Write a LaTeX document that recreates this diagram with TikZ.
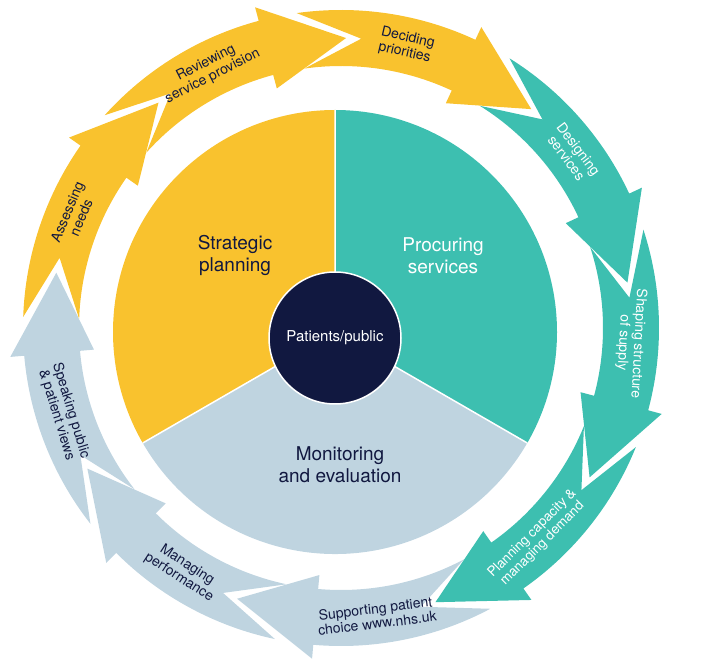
\documentclass[tikz,border=0pt]{standalone}
\usepackage{fontspec}
\setmainfont{TeX Gyre Heros}
\usetikzlibrary{calc}
\definecolor{yel}{HTML}{F9C22E}
\definecolor{teal}{HTML}{3DBFB0}
\definecolor{lbl}{HTML}{BFD4E0}
\definecolor{navy}{HTML}{111840}
\tikzset{
  lab/.style={align=center,font=\fontsize{14}{15}\selectfont,text=#1},
  pielab/.style={align=center,font=\fontsize{19}{22}\selectfont,text=#1}
}
\newcommand{\ringarrow}[3]{% start angle, color, name
  \pgfmathsetmacro{\aa}{#1}\pgfmathsetmacro{\bb}{#1-33}
  \pgfmathsetmacro{\nn}{#1-12}\pgfmathsetmacro{\tt}{#1-49}
  \fill[#2] ($(C)+(\aa:318)$) arc[start angle=\aa,end angle=\bb,radius=318]
    -- ($(C)+(\bb:332)$) -- ($(C)+(\tt:290)$) -- ($(C)+(\bb:248)$)
    -- ($(C)+(\bb:262)$) arc[start angle=\bb,end angle=\aa,radius=262]
    -- ($(C)+(\nn:290)$) -- cycle;
  \coordinate (#3) at ($(C)+(#1-21:290)$);
}
\begin{document}
\begin{tikzpicture}[x=1pt,y=1pt]
\useasboundingbox (0,0) rectangle (725,669);
\coordinate (C) at (341,341);
\coordinate (P) at (335,337);
% pie
\fill[yel] (P) -- ++(90:222) arc[start angle=90,end angle=210,radius=222] -- cycle;
\fill[teal] (P) -- ++(90:222) arc[start angle=90,end angle=-30,radius=222] -- cycle;
\fill[lbl] (P) -- ++(210:222) arc[start angle=210,end angle=330,radius=222] -- cycle;
\draw[white,line width=1.5pt] (P) -- ++(90:222) (P) -- ++(210:222) (P) -- ++(-30:222);
\node[circle,fill=navy,draw=white,line width=1.5pt,minimum size=132pt,inner sep=0pt] (cen) at ($(P)+(0,-6)$) {};
\node[text=white,font=\fontsize{15}{17}\selectfont] (cenl) at (cen) {Patients/public};
\node[pielab=navy] (sp) at (235,414) {Strategic\\planning};
\node[pielab=white] (ps) at (443,413) {Procuring\\services};
\node[pielab=navy] (me) at (340,204) {Monitoring\\and evaluation};
% ring
\ringarrow{98}{yel}{a1}
\ringarrow{58}{teal}{a2}
\ringarrow{18}{teal}{a3}
\ringarrow{-22}{teal}{a4}
\ringarrow{-62}{lbl}{a5}
\ringarrow{-102}{lbl}{a6}
\ringarrow{-142}{lbl}{a7}
\ringarrow{178}{yel}{a8}
\ringarrow{138}{yel}{a9}
\coordinate (a4b) at ($(C)+(-47:288)$);
\node[lab=navy,rotate=-13] (t1) at (a1) {Deciding\\priorities};
\node[lab=white,rotate=-53] (t2) at (a2) {Designing\\services};
\node[lab=white,rotate=-93] (t3) at (a3) {Shaping structure\\of supply};
\node[lab=white,rotate=45,font=\fontsize{13.5}{14.5}\selectfont] (t4) at (a4b) {Planning capacity~\&\\managing demand};
\node[lab=navy,rotate=7] (t5) at (a5) {Supporting patient\\choice www.nhs.uk};
\node[lab=navy,rotate=-33] (t6) at (a6) {Managing\\performance};
\node[lab=navy,rotate=-73] (t7) at (a7) {Speaking public\\\& patient views};
\node[lab=navy,rotate=67] (t8) at (a8) {Assessing\\needs};
\node[lab=navy,rotate=27] (t9) at (a9) {Reviewing\\service provision};
\end{tikzpicture}
\end{document}
